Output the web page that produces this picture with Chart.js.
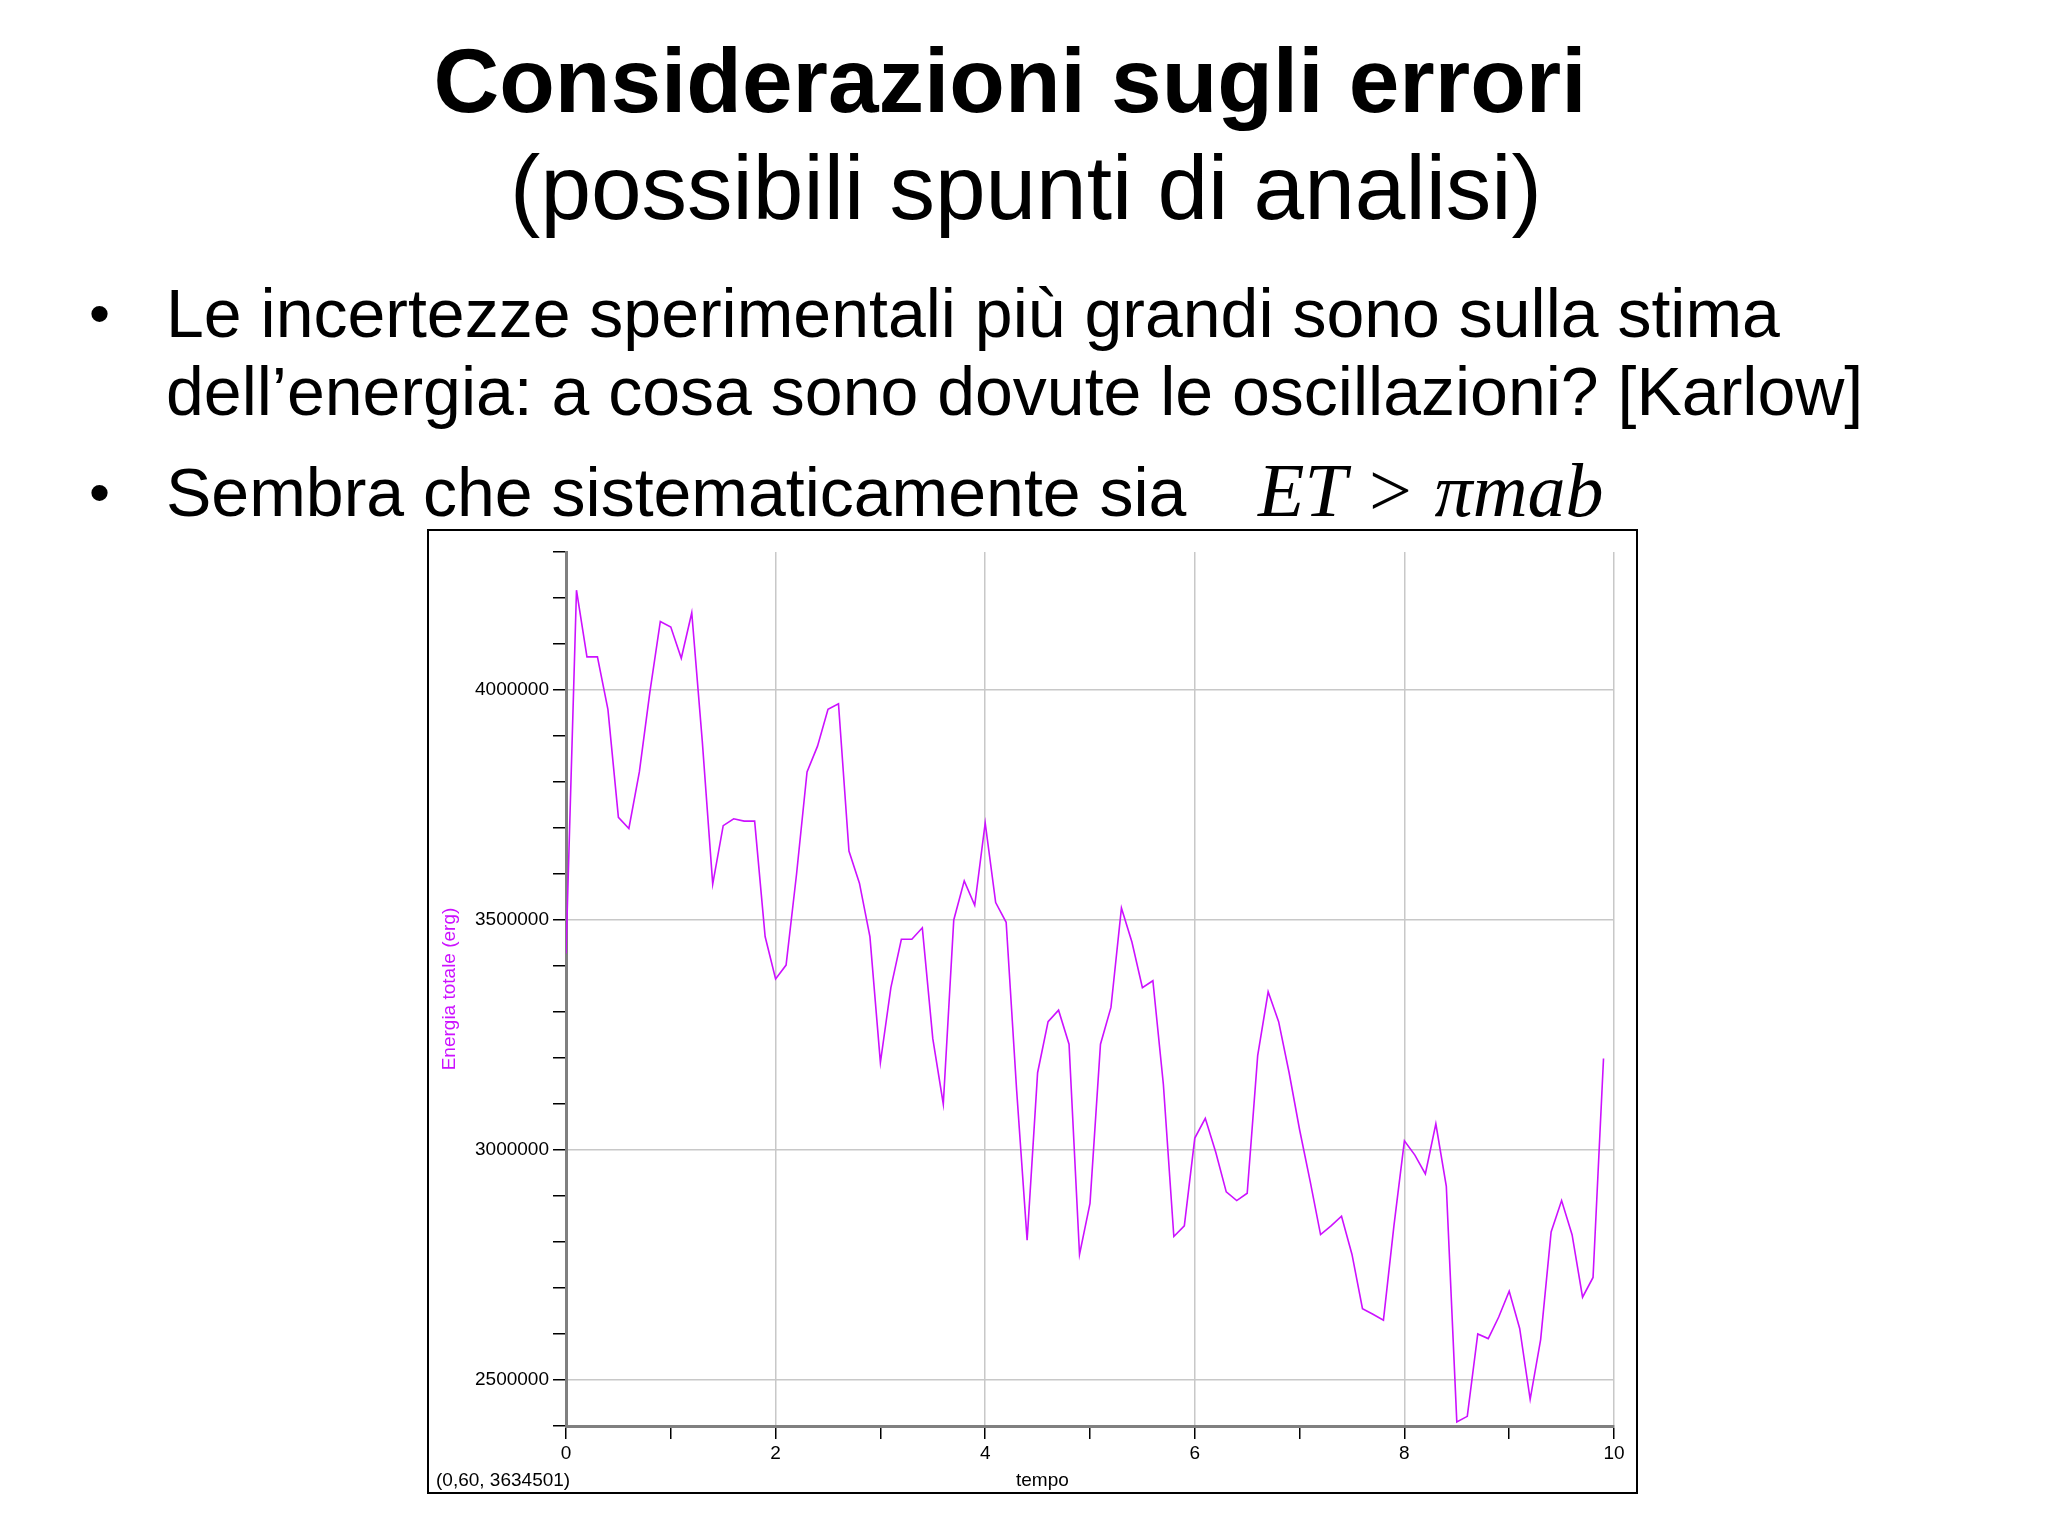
<!DOCTYPE html>
<html>
<head>
<meta charset="utf-8">
<script src="https://cdn.jsdelivr.net/npm/chart.js@4.4.0/dist/chart.umd.min.js"></script>
<style>
  html, body { margin: 0; padding: 0; background: #fff; }
  body { width: 2048px; height: 1536px; position: relative; overflow: hidden; font-family: "Liberation Sans", Arial, sans-serif; color: #000; }
  .t { position: absolute; white-space: nowrap; line-height: 1; }
  #title { left: 10px; width: 2000px; top: 35px; font-size: 91px; font-weight: bold; text-align: center; }
  #subtitle { left: 26px; width: 2000px; top: 142px; font-size: 91px; text-align: center; }
  .bul { font-size: 68px; }
  .dot { font-size: 60px; }
  .math { font-family: "Liberation Serif", "Times New Roman", serif; font-style: italic; font-size: 76px; }
  #frame { position: absolute; left: 427px; top: 529px; width: 1211px; height: 965px; border: 2px solid #000; box-sizing: border-box; background: #fff; }
  #frame canvas { position: absolute; left: 0; top: 0; }
  .small { font-size: 19px; }
</style>
</head>
<body>
<div class="t" id="title">Considerazioni sugli errori</div>
<div class="t" id="subtitle">(possibili spunti di analisi)</div>

<div class="t dot" style="left:89px; top:284px;">•</div>
<div class="t bul" style="left:166px; top:279px;">Le incertezze sperimentali più grandi sono sulla stima</div>
<div class="t bul" style="left:166px; top:357px;">dell’energia: a cosa sono dovute le oscillazioni? [Karlow]</div>
<div class="t dot" style="left:89px; top:463px;">•</div>
<div class="t bul" style="left:166px; top:458px;">Sembra che sistematicamente sia</div>
<div class="t math" style="left:1258px; top:452px;">ET &gt; πmab</div>

<div id="frame"><canvas id="energyChart" width="1207" height="961"></canvas></div>
<div class="t small" style="left:436px; top:1470px;">(0,60, 3634501)</div>
<div class="t small" style="left:1016px; top:1470px;">tempo</div>

<script>
const tempo = [0.0, 0.1, 0.2, 0.3, 0.4, 0.5, 0.6, 0.7, 0.8, 0.9,
  1.0, 1.1, 1.2, 1.3, 1.4, 1.5, 1.6, 1.7, 1.8, 1.9,
  2.0, 2.1, 2.2, 2.3, 2.4, 2.5, 2.6, 2.7, 2.8, 2.9,
  3.0, 3.1, 3.2, 3.3, 3.4, 3.5, 3.6, 3.7, 3.8, 3.9,
  4.0, 4.1, 4.2, 4.3, 4.4, 4.5, 4.6, 4.7, 4.8, 4.9,
  5.0, 5.1, 5.2, 5.3, 5.4, 5.5, 5.6, 5.7, 5.8, 5.9,
  6.0, 6.1, 6.2, 6.3, 6.4, 6.5, 6.6, 6.7, 6.8, 6.9,
  7.0, 7.1, 7.2, 7.3, 7.4, 7.5, 7.6, 7.7, 7.8, 7.9,
  8.0, 8.1, 8.2, 8.3, 8.4, 8.5, 8.6, 8.7, 8.8, 8.9,
  9.0, 9.1, 9.2, 9.3, 9.4, 9.5, 9.6, 9.7, 9.8, 9.9];

const energia = [3427000, 4217000, 4072000, 4072000, 3958000, 3723000, 3699000, 3822000, 3995000, 4149000,
  4137000, 4069000, 4168000, 3890000, 3578000, 3705000, 3720000, 3715000, 3715000, 3464000,
  3372000, 3402000, 3600000, 3822000, 3878000, 3958000, 3970000, 3650000, 3580000, 3464000,
  3190000, 3353000, 3458000, 3458000, 3483000, 3242000, 3100000, 3500000, 3585000, 3532000,
  3711000, 3538000, 3495000, 3130000, 2804000, 3168000, 3279000, 3304000, 3230000, 2773000,
  2884000, 3230000, 3310000, 3526000, 3452000, 3353000, 3368000, 3143000, 2812000, 2835000,
  3026000, 3069000, 2995000, 2909000, 2890000, 2906000, 3205000, 3344000, 3279000, 3168000,
  3044000, 2933000, 2816000, 2835000, 2856000, 2773000, 2655000, 2643000, 2630000, 2835000,
  3020000, 2989000, 2948000, 3057000, 2921000, 2409000, 2421000, 2600000, 2590000, 2637000,
  2693000, 2612000, 2458000, 2588000, 2822000, 2890000, 2816000, 2680000, 2723000, 3199000];

const xLabels = [0, 2, 4, 6, 8, 10];
const yLabels = [2500000, 3000000, 3500000, 4000000];

const lineColor = '#cc11ff';
const gridColor = '#c8c8c8';
const axisColor = '#808080';
const tickFont = { family: '"Liberation Sans", Arial, sans-serif', size: 19 };

const points = tempo.map((t, i) => ({ x: t, y: energia[i] }));

function noPadding(scale) {
  scale.paddingTop = 0;
  scale.paddingBottom = 0;
  scale.paddingLeft = 0;
  scale.paddingRight = 0;
}

const ctx = document.getElementById('energyChart').getContext('2d');
new Chart(ctx, {
  type: 'line',
  data: {
    datasets: [{
      label: 'Energia totale (erg)',
      data: points,
      borderColor: lineColor,
      borderWidth: 1.6,
      pointRadius: 0,
      tension: 0,
      fill: false
    }]
  },
  options: {
    responsive: false,
    animation: false,
    devicePixelRatio: 1,
    layout: { padding: { top: 21, right: 22, left: 0, bottom: 0 } },
    plugins: {
      legend: { display: false },
      tooltip: { enabled: false }
    },
    scales: {
      x: {
        type: 'linear',
        min: 0,
        max: 10,
        afterFit: function (scale) { scale.height = 66; noPadding(scale); },
        ticks: {
          stepSize: 1,
          autoSkip: false,
          maxRotation: 0,
          padding: 3,
          color: '#000',
          font: tickFont,
          callback: v => xLabels.includes(v) ? String(v) : ''
        },
        grid: {
          color: c => (c.tick && xLabels.includes(c.tick.value)) ? gridColor : 'rgba(0,0,0,0)',
          lineWidth: 1.5,
          tickLength: 13,
          tickColor: '#000',
          tickWidth: 1.5
        },
        border: { color: axisColor, width: 3 }
      },
      y: {
        type: 'linear',
        min: 2400000,
        max: 4300000,
        afterFit: function (scale) { scale.width = 137; noPadding(scale); },
        ticks: {
          stepSize: 100000,
          autoSkip: false,
          padding: 4,
          color: '#000',
          font: tickFont,
          callback: v => yLabels.includes(v) ? String(v) : ''
        },
        grid: {
          color: c => (c.tick && yLabels.includes(c.tick.value)) ? gridColor : 'rgba(0,0,0,0)',
          lineWidth: 1.5,
          tickLength: 13,
          tickColor: '#000',
          tickWidth: 1.5
        },
        border: { color: axisColor, width: 3 },
        title: {
          display: true,
          text: 'Energia totale (erg)',
          color: lineColor,
          font: { family: '"Liberation Sans", Arial, sans-serif', size: 19 },
          padding: { top: 9, bottom: 0 }
        }
      }
    }
  }
});
</script>
</body>
</html>
